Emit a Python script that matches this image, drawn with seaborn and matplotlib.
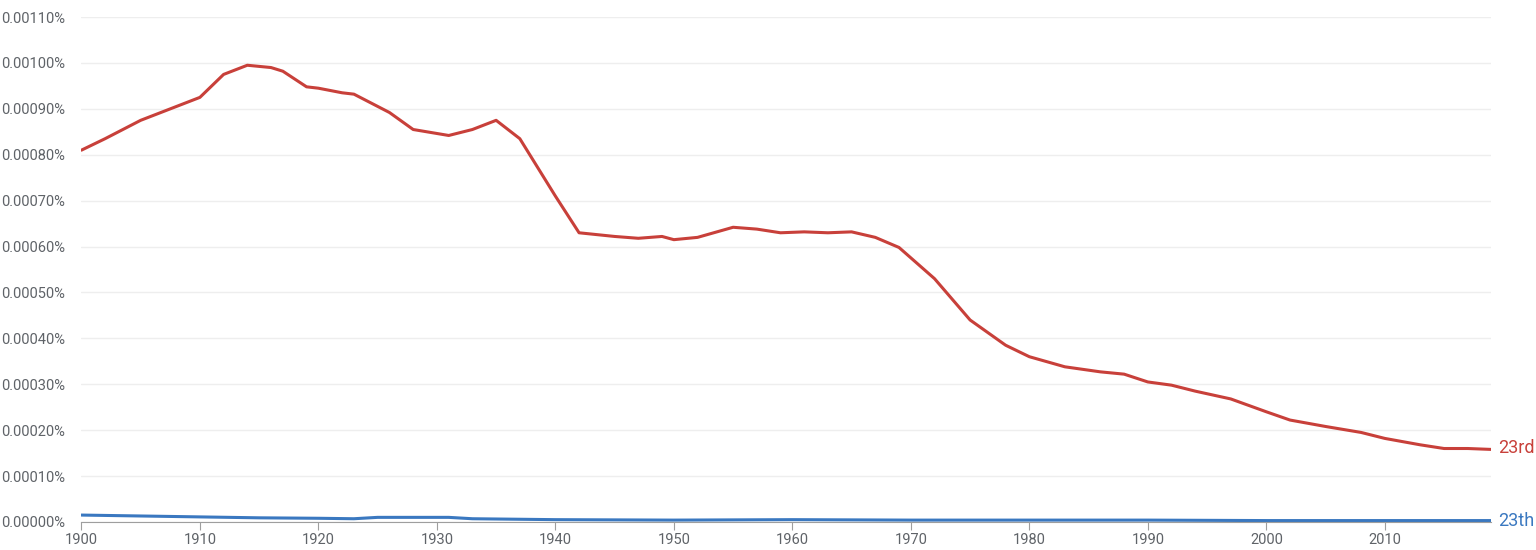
import matplotlib
matplotlib.use("Agg")
import matplotlib.pyplot as plt
import seaborn as sns
import pandas as pd
from matplotlib.ticker import FuncFormatter, MultipleLocator

# values in percent
years_rd = [1900, 1902, 1905, 1907, 1910, 1912, 1914, 1916, 1917, 1919, 1920, 1922, 1923,
            1926, 1928, 1931, 1933, 1935, 1937, 1940, 1942, 1945, 1947, 1949, 1950, 1952,
            1955, 1957, 1959, 1961, 1963, 1965, 1967, 1969, 1972, 1975, 1978, 1980, 1983,
            1986, 1988, 1990, 1992, 1994, 1997, 2000, 2002, 2005, 2008, 2010, 2013, 2015,
            2017, 2019]
rd = [0.000810, 0.000835, 0.000875, 0.000895, 0.000925, 0.000975, 0.000995, 0.000990,
      0.000982, 0.000948, 0.000945, 0.000935, 0.000932, 0.000892, 0.000855, 0.000842,
      0.000855, 0.000875, 0.000835, 0.000710, 0.000630, 0.000622, 0.000618, 0.000622,
      0.000615, 0.000620, 0.000642, 0.000638, 0.000630, 0.000632, 0.000630, 0.000632,
      0.000620, 0.000598, 0.000530, 0.000440, 0.000385, 0.000360, 0.000338, 0.000327,
      0.000322, 0.000305, 0.000298, 0.000285, 0.000268, 0.000240, 0.000222, 0.000208,
      0.000195, 0.000182, 0.000168, 0.000160, 0.000160, 0.000158]
years_th = [1900, 1905, 1910, 1915, 1920, 1923, 1925, 1931, 1933, 1940, 1950, 1960, 1970,
            1980, 1990, 2000, 2010, 2019]
th = [0.000015, 0.000013, 0.000011, 0.000009, 0.000008, 0.000007, 0.000010, 0.000010,
      0.000007, 0.000005, 0.000004, 0.000005, 0.000004, 0.000004, 0.000004, 0.000003,
      0.000003, 0.000003]

red = "#c8403a"
blue = "#3a78c0"
grey = "#5f6368"

sns.set_style("white")
plt.rcParams["font.family"] = ["Roboto", "DejaVu Sans"]

df = pd.concat([
    pd.DataFrame({"year": years_rd, "value": rd, "ngram": "23rd"}),
    pd.DataFrame({"year": years_th, "value": th, "ngram": "23th"}),
])

fig = plt.figure(figsize=(15.36, 5.5), dpi=100)
ax = fig.add_axes([0.053, 0.051, 0.918, 0.918])
sns.lineplot(data=df, x="year", y="value", hue="ngram", palette={"23rd": red, "23th": blue},
             linewidth=2.2, legend=False, ax=ax)

ax.set_xlim(1900, 2019)
ax.set_ylim(0, 0.0011)
ax.yaxis.set_major_locator(MultipleLocator(0.0001))
ax.xaxis.set_major_locator(MultipleLocator(10))
ax.yaxis.set_major_formatter(FuncFormatter(lambda v, p: f"{v:.5f}%"))
ax.grid(axis="y", color="#eeeeee", linewidth=1)
for s in ["top", "right", "left"]:
    ax.spines[s].set_visible(False)
ax.spines["bottom"].set_color("#9e9e9e")
ax.tick_params(axis="y", length=8, color=grey, labelcolor=grey, labelsize=10.5, pad=4)
ax.tick_params(axis="x", length=6, color="#9e9e9e", labelcolor=grey, labelsize=10.5, pad=2, bottom=True)
ax.set_xlabel("")
ax.set_ylabel("")

ax.text(2019.6, rd[-1] + 0.000003, "23rd", color=red, fontsize=13, va="center", clip_on=False)
ax.text(2019.6, th[-1], "23th", color=blue, fontsize=13, va="center", clip_on=False)

fig.savefig("out.png", dpi=100)
